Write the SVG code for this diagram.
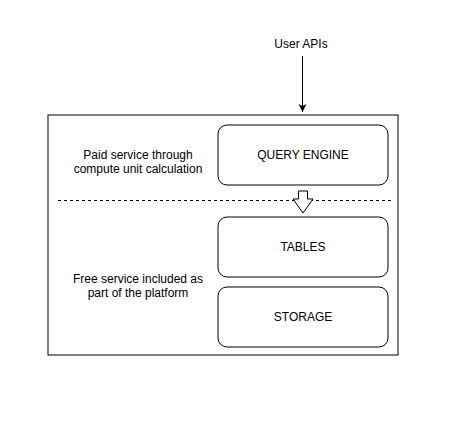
<svg xmlns="http://www.w3.org/2000/svg" width="463" height="428" viewBox="0 0 463 428">
<defs>
<style>
.box{fill:#fff;stroke:#000;stroke-width:1}
.t{font-family:"Liberation Sans",Arial,sans-serif;font-size:12px;fill:#000;text-anchor:middle}
</style>
<marker id="ah" markerWidth="10" markerHeight="10" refX="8" refY="4" orient="auto" markerUnits="userSpaceOnUse">
<path d="M0,0 L8,4 L0,8 L2,4 Z" fill="#000"/>
</marker>
</defs>
<rect width="463" height="428" fill="#fff"/>
<g id="platform">
<rect class="box" x="48" y="115" width="350" height="240"/>
</g>
<g id="query-engine">
<rect class="box" x="218" y="125" width="170" height="60" rx="9"/>
<text class="t" x="303" y="159">QUERY ENGINE</text>
</g>
<g id="tables">
<rect class="box" x="218" y="217" width="170" height="60" rx="9"/>
<text class="t" x="303" y="251">TABLES</text>
</g>
<g id="storage">
<rect class="box" x="218" y="287" width="170" height="60" rx="9"/>
<text class="t" x="303" y="321">STORAGE</text>
</g>
<g id="paid-label">
<text class="t" x="138" y="159">Paid service through</text>
<text class="t" x="138" y="173">compute unit calculation</text>
</g>
<g id="free-label">
<text class="t" x="138" y="283">Free service included as</text>
<text class="t" x="138" y="297">part of the platform</text>
</g>
<g id="user-apis">
<text class="t" x="301" y="48">User APIs</text>
</g>
<g id="connectors">
<line x1="58" y1="200.5" x2="393" y2="200.5" stroke="#000" stroke-width="1" stroke-dasharray="3,3"/>
<line x1="302.5" y1="56" x2="302.5" y2="112" stroke="#000" stroke-width="1" marker-end="url(#ah)"/>
<path d="M298.5,191 L307.5,191 L307.5,199 L313,199 L303,213 L293,199 L298.5,199 Z" fill="#fff" stroke="#000" stroke-width="1"/>
</g>
</svg>
